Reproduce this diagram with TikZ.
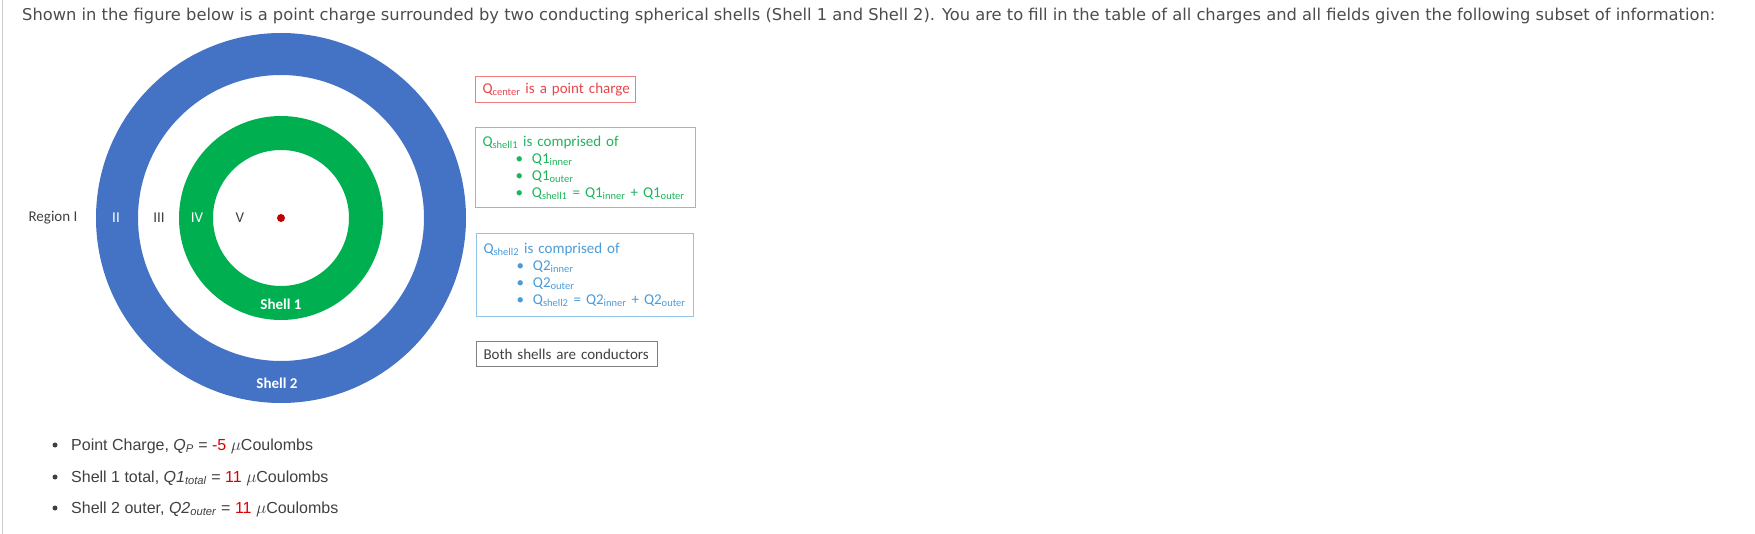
\documentclass[tikz,border=0pt]{standalone}
\usepackage{fontspec}
\setmainfont{Carlito}
\newfontfamily\headfont{DejaVu Sans}
\newfontfamily\listfont{Liberation Sans}
\definecolor{shelltwo}{HTML}{4472C4}
\definecolor{shellone}{HTML}{00B050}
\definecolor{chargered}{HTML}{C00000}
\definecolor{boxred}{HTML}{E8454A}
\definecolor{boxgreen}{HTML}{1FB45C}
\definecolor{boxblue}{HTML}{4A9BD8}
\definecolor{darktext}{HTML}{404040}

\begin{document}
\begin{tikzpicture}[x=1pt,y=-1pt,
  region/.style={font=\fontsize{15}{18}\selectfont, text=darktext},
  shelllabel/.style={font=\bfseries\fontsize{15}{18}\selectfont, text=white},
  infobox/.style={draw, line width=1pt, anchor=north west, align=left,
    inner xsep=7pt, inner ysep=0pt, font=\fontsize{15}{17}\selectfont},
  item/.style={anchor=base west, font=\listfont\fontsize{16}{19}\selectfont,
    text=darktext, inner sep=0pt}]
  \useasboundingbox (0,0) rectangle (1755,534);
  \draw[black!20, line width=1.5pt] (2.5,0) -- (2.5,534);
  \node[anchor=base west, inner sep=0pt, text=black!70,
    font=\headfont\fontsize{16.3}{19}\selectfont] (intro) at (22,21)
    {Shown in the figure below is a point charge surrounded by two conducting spherical shells (Shell 1 and Shell 2). You are to fill in the table of all charges and all fields given the following subset of information:};

  % the two shells
  \coordinate (ctr) at (281,218);
  \fill[shelltwo, even odd rule] (ctr) circle (185pt) (ctr) circle (143pt);
  \fill[shellone, even odd rule] (ctr) circle (102pt) (ctr) circle (68pt);
  \fill[chargered] (ctr) circle (4pt);

  \node[region] (reg1) at (53,218) {Region I};
  \node[region, text=white] (reg2) at (116,218) {II};
  \node[region] (reg3) at (159,218) {III};
  \node[region, text=white] (reg4) at (197,218) {IV};
  \node[region] (reg5) at (240,218) {V};
  \node[shelllabel] (s1) at (281,304) {Shell 1};
  \node[shelllabel] (s2) at (277,383) {Shell 2};

  % boxes on the right
  \node[infobox, draw=boxred!70, text=boxred, text width=152pt,
    inner xsep=4pt, minimum height=26pt] (qcenter) at (475,76)
    {\hspace*{3pt}Q\textsubscript{center} is a point charge};
  \node[infobox, draw=boxgreen!60, text=boxgreen, text width=206pt,
    minimum height=80pt] (qshell1) at (475,127)
    {Q\textsubscript{shell1} is comprised of\\
     \hspace*{33pt}\textbullet\hspace{9pt}Q1\textsubscript{inner}\\
     \hspace*{33pt}\textbullet\hspace{9pt}Q1\textsubscript{outer}\\
     \hspace*{33pt}\textbullet\hspace{9pt}Q\textsubscript{shell1} = Q1\textsubscript{inner} + Q1\textsubscript{outer}};
  \node[infobox, draw=boxblue!60, text=boxblue, text width=203pt,
    minimum height=83pt] (qshell2) at (476,233)
    {Q\textsubscript{shell2} is comprised of\\
     \hspace*{33pt}\textbullet\hspace{9pt}Q2\textsubscript{inner}\\
     \hspace*{33pt}\textbullet\hspace{9pt}Q2\textsubscript{outer}\\
     \hspace*{33pt}\textbullet\hspace{9pt}Q\textsubscript{shell2} = Q2\textsubscript{inner} + Q2\textsubscript{outer}};
  \node[infobox, draw=black!50, text=darktext, text width=167pt,
    minimum height=25pt] (cond) at (476,341) {Both shells are conductors};

  % given values
  \foreach \y in {445,477,508}
    \fill[darktext] (55,\y) circle (2.5pt);
  \node[item] (given1) at (71,450) {Point Charge, \textit{Q}\textsubscript{\textit{P}} = \textcolor{red!85!black}{-5} $\mu$Coulombs};
  \node[item] (given2) at (71,482) {Shell 1 total, \textit{Q1}\textsubscript{\textit{total}} = \textcolor{red!85!black}{11} $\mu$Coulombs};
  \node[item] (given3) at (71,513) {Shell 2 outer, \textit{Q2}\textsubscript{\textit{outer}} = \textcolor{red!85!black}{11} $\mu$Coulombs};
\end{tikzpicture}
\end{document}
